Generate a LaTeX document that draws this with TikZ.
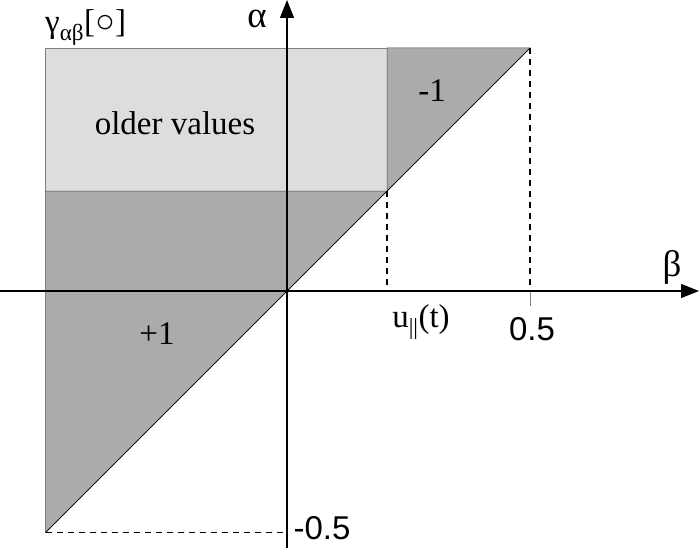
\documentclass[tikz,border=0pt]{standalone}
\usepackage{fontspec}
\setmainfont{Liberation Serif}
\newfontfamily\arialf{Liberation Sans}
\usetikzlibrary{arrows.meta}
\definecolor{lightg}{RGB}{221,221,221}
\definecolor{darkg}{RGB}{171,171,171}
\begin{document}
\begin{tikzpicture}[x=1pt,y=-1pt,
  lbl/.style={inner sep=0pt,font=\fontsize{33}{34}\selectfont},
  grk/.style={inner sep=0pt,font=\fontsize{37}{38}\selectfont},
  num/.style={inner sep=0pt,font=\arialf\fontsize{33}{34}\selectfont},
  axis/.style={line width=1.3pt,-{Triangle[length=18pt,width=14pt]}},
  dsh/.style={line width=1.1pt,dash pattern=on 6pt off 5pt}]
\useasboundingbox (0,0) rectangle (700,548);
% coordinates
\coordinate (O) at (287,291);
\coordinate (TL) at (45.5,48);
\coordinate (TR) at (530,48);
\coordinate (U) at (387,48);
\coordinate (UB) at (387,191);
\coordinate (LB) at (45.5,191);
\coordinate (BL) at (45.5,532.5);
\coordinate (UA) at (387,291);
\coordinate (HA) at (530,291);
\coordinate (HT) at (530,306);
\coordinate (VB) at (287,532.5);
% regions
\fill[lightg] (TL) rectangle (UB);
\draw[gray,line width=0.7pt] (TL) rectangle (UB);
\filldraw[darkg,draw=black!70,line width=0.5pt] (LB) -- (UB) -- (BL) -- cycle;
\filldraw[darkg,draw=black!70,line width=0.5pt] (U) -- (TR) -- (UB) -- cycle;
\draw[line width=0.7pt] (BL) -- (TR);
% dashed guides
\draw[dsh] (UB) -- (UA);
\draw[dsh] (TR) -- (HA);
\draw[dsh] (BL) -- (VB);
\draw[gray,line width=1pt] (HA) -- (HT);
% axes
\coordinate (xs) at (0,291);
\coordinate (xe) at (699,291);
\coordinate (ys) at (287,548);
\coordinate (ye) at (287,0);
\draw[axis] (xs) -- (xe);
\draw[axis] (ys) -- (ye);
% labels
\node[lbl,anchor=base west] (g) at (45,33) {γ\textsubscript{αβ}[○]};
\node[grk,anchor=base] (a) at (257,28) {α};
\node[grk] (b) at (672,267) {β};
\node[lbl] (ov) at (175,123) {older values};
\node[lbl] (m1) at (432,91) {-1};
\node[lbl] (p1) at (157,334) {+1};
\node[lbl] (u) at (421,322) {u\textsubscript{||}(t)};
\node[num] (h) at (532,329) {0.5};
\node[num] (mh) at (322,528) {-0.5};
\end{tikzpicture}
\end{document}
